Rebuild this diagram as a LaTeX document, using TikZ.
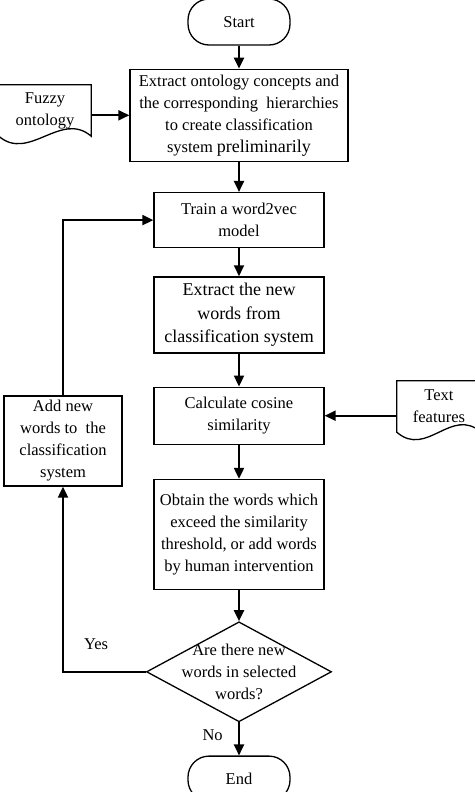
\documentclass[tikz,border=0pt]{standalone}
\usepackage{fontspec}
\setmainfont{Liberation Serif}
\usetikzlibrary{positioning,shapes.geometric,arrows.meta}

% outline of a document node: flat top, wavy bottom
\newcommand{\docoutline}[1]{%
  \draw[line width=1.3pt] (#1.north west) -- (#1.north east) -- (#1.south east)
    .. controls +(-30,26) and +(30,-26) .. (#1.south west) -- cycle;}

\begin{document}
\begin{tikzpicture}[x=1pt,y=1pt,>={Triangle[length=11pt,width=10pt]},
    font=\fontsize{16.5}{22}\selectfont,
    box/.style={draw, rectangle, line width=1.3pt, align=center, minimum width=170pt, inner sep=2pt},
    term/.style={draw, rectangle, rounded corners=21pt, line width=1.3pt, minimum width=102pt},
    doc/.style={rectangle, align=center, minimum height=51pt, inner sep=1pt},
    line/.style={line width=2pt}]
        \useasboundingbox (0,0) rectangle (474,-792);

        \node (start) [term, minimum height=46pt] at (239,-22) {Start};
        \node (concepts) [box, minimum width=218pt, minimum height=92pt, below=23pt of start]
            {Extract ontology concepts and\\the corresponding\ \ hierarchies\\to create classification\\system {\fontsize{18}{22}\selectfont preliminarily}};
        \node (train) [box, minimum height=55pt, below=30pt of concepts] {Train a word2vec\\model};
        \node (extract) [box, minimum height=76pt, below=28pt of train, font=\fontsize{18}{23.5}\selectfont]
            {Extract the new\\words from\\classification system};
        \node (cosine) [box, minimum height=57pt, below=33pt of extract] {Calculate cosine\\similarity};
        \node (obtain) [box, minimum height=110pt, below=34pt of cosine]
            {Obtain the words which\\exceed the similarity\\threshold, or add words\\by human intervention};
        \node (check) [draw, diamond, line width=1.3pt, align=center, aspect=1.85, inner sep=-10pt,
            minimum width=185pt, minimum height=100pt, below=31pt of obtain]
            {Are there new\\words in selected\\words?};
        \node (stop) [term, minimum height=45pt, below=33pt of check] {End};

        \node (addwords) [box, minimum width=118pt, minimum height=90pt] at (63,-441)
            {Add new\\words to\ \ the\\classification\\system};

        \node (fuzzy) [doc, minimum width=92pt] at (45,-110.5) {Fuzzy\\ontology};
        \docoutline{fuzzy}
        \node (textfeat) [doc, minimum width=84pt] at (439,-406.5) {Text\\features};
        \docoutline{textfeat}

        \draw[line, ->] (start) -- (concepts);
        \draw[line, ->] (concepts) -- (train);
        \draw[line, ->] (train) -- (extract);
        \draw[line, ->] (extract) -- (cosine);
        \draw[line, ->] (cosine) -- (obtain);
        \draw[line, ->] (obtain) -- (check);
        \draw[line, ->] (check) -- node[left=12pt, pos=0.4] {No} (stop);

        \draw[line, ->] (fuzzy.east |- concepts) -- (concepts.west);
        \draw[line, ->] (textfeat.west |- cosine) -- (cosine.east);

        \draw[line, ->] (check.west) -- node[above=18pt, pos=0.6] {Yes} (check.west -| addwords) -- (addwords.south);
        \draw[line, ->] (addwords.north) -- (addwords |- train) -- (train.west);
    \end{tikzpicture}
\end{document}
